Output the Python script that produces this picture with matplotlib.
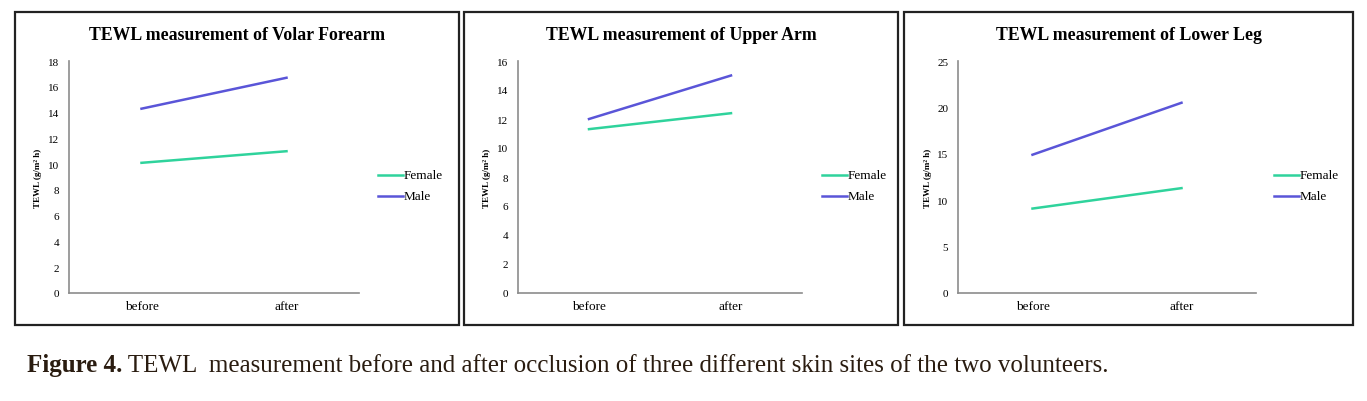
import matplotlib
matplotlib.use("Agg")
import matplotlib.pyplot as plt
from matplotlib.patches import Rectangle

plt.rcParams['font.family'] = ['Liberation Serif', 'DejaVu Serif']

W, H = 1367, 402

categories = ["before", "after"]
series_names = ["Female", "Male"]
titles = ["TEWL measurement of Volar Forearm",
          "TEWL measurement of Upper Arm",
          "TEWL measurement of Lower Leg"]
female_values = [[10.1, 11.0], [11.3, 12.4], [9.1, 11.3]]
male_values = [[14.3, 16.7], [12.0, 15.0], [14.9, 20.5]]
y_max = [18, 16, 25]
y_step = [2, 2, 5]
y_label = "TEWL (g/m\u00b2 h)"
caption_bold = "Figure 4."
caption_rest = " TEWL  measurement before and after occlusion of three different skin sites of the two volunteers."

colors = {"Female": "#2fd39c", "Male": "#5a55d8"}

# pixel layout: (box left, box right, axis left, axis right, legend line x)
panels = [
    (15, 459, 69, 359, 378),
    (464, 898, 518, 802, 822),
    (904, 1353, 958, 1256, 1274),
]
box_top, box_bot = 13, 326
ax_top, ax_bot = 62, 294

fig = plt.figure(figsize=(W / 100, H / 100), dpi=100)

for i, (bl, br, al, ar, lx) in enumerate(panels):
    fig.patches.append(Rectangle((bl / W, 1 - box_bot / H), (br - bl) / W, (box_bot - box_top) / H,
                                 transform=fig.transFigure, fill=False, edgecolor="#222222", lw=1.6))
    ax = fig.add_axes([al / W, 1 - ax_bot / H, (ar - al) / W, (ax_bot - ax_top) / H])
    x = range(len(categories))
    ax.plot(x, female_values[i], color=colors["Female"], lw=1.8, label="Female")
    ax.plot(x, male_values[i], color=colors["Male"], lw=1.8, label="Male")
    ax.set_xlim(-0.5, 1.5)
    ax.set_ylim(0, y_max[i])
    ax.set_yticks(range(0, y_max[i] + 1, y_step[i]))
    ax.set_xticks(list(x))
    ax.set_xticklabels(categories, fontsize=9.5)
    ax.tick_params(axis="y", length=0, labelsize=8, pad=7)
    ax.tick_params(axis="x", length=0, pad=5)
    for s in ["top", "right"]:
        ax.spines[s].set_visible(False)
    for s in ["left", "bottom"]:
        ax.spines[s].set_color("#8c8c8c")
        ax.spines[s].set_linewidth(1.2)
    ax.set_ylabel(y_label, fontsize=6.5, fontweight="bold", labelpad=4)
    fig.text((bl + br) / 2 / W, 1 - 35 / H, titles[i], ha="center", va="center",
             fontsize=12.8, fontweight="bold")
    # legend
    for j, name in enumerate(series_names):
        yy = 1 - (176 + 21 * j) / H
        fig.add_artist(plt.Line2D([lx / W, (lx + 25) / W], [yy, yy], color=colors[name], lw=1.8,
                                  transform=fig.transFigure))
        fig.text((lx + 26) / W, yy, name, ha="left", va="center", fontsize=9.5)

t = fig.text(27 / W, 1 - 366 / H, caption_bold, fontsize=18, fontweight="bold", va="center",
             color="#2a1c10")
fig.canvas.draw()
plt.annotate(caption_rest, xy=(1, 0.5), xycoords=t, va="center", ha="left", fontsize=18,
             color="#2a1c10")

fig.savefig("out.png", dpi=100)
